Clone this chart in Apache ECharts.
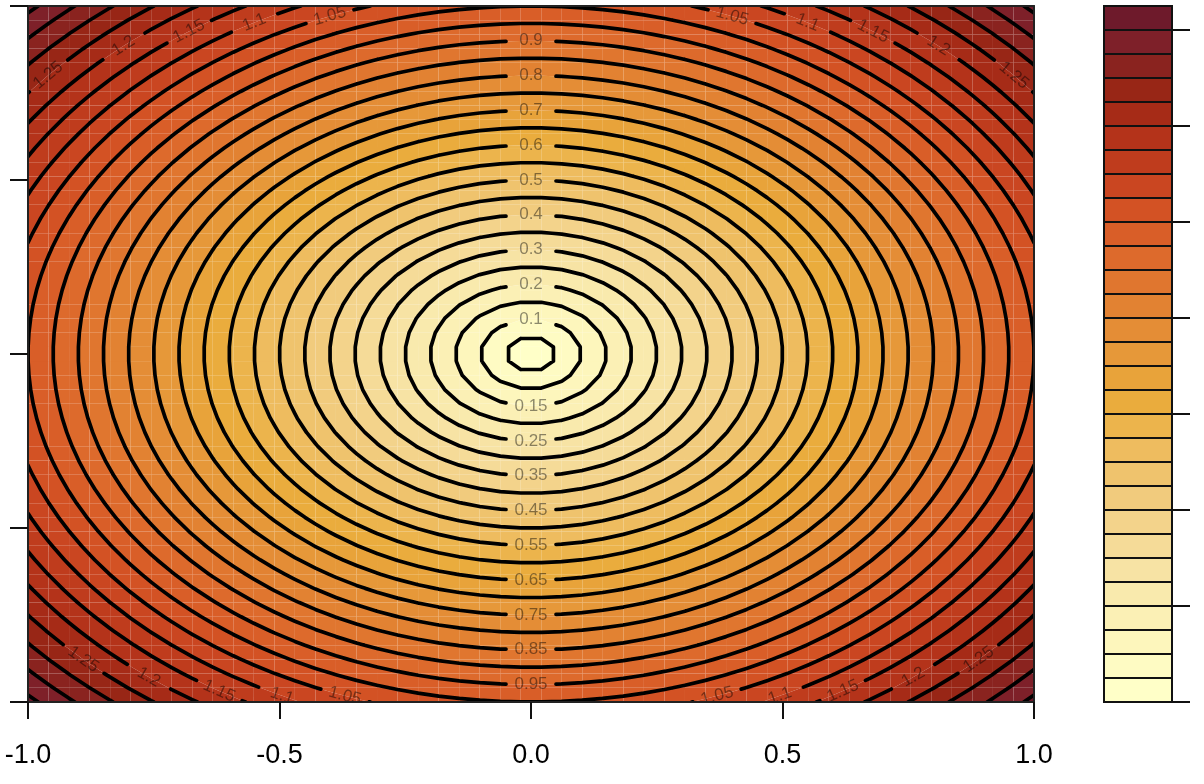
<!DOCTYPE html>
<html>
<head>
<meta charset="utf-8">
<script src="https://cdn.jsdelivr.net/npm/echarts@6/dist/echarts.min.js"></script>
<style>
  html, body { margin: 0; padding: 0; background: #fff; }
  #chart { width: 1204px; height: 784px; }
</style>
</head>
<body>
<div id="chart"></div>
<script>
// grid nodes of the surface (50 points from -1 to 1, same for x and y)
const gridPts = [
  -1, -0.95918, -0.91837, -0.87755, -0.83673, -0.79592, -0.7551, -0.71429, -0.67347, -0.63265,
  -0.59184, -0.55102, -0.5102, -0.46939, -0.42857, -0.38776, -0.34694, -0.30612, -0.26531, -0.22449,
  -0.18367, -0.14286, -0.10204, -0.06122, -0.02041, 0.02041, 0.06122, 0.10204, 0.14286, 0.18367,
  0.22449, 0.26531, 0.30612, 0.34694, 0.38776, 0.42857, 0.46939, 0.5102, 0.55102, 0.59184,
  0.63265, 0.67347, 0.71429, 0.7551, 0.79592, 0.83673, 0.87755, 0.91837, 0.95918, 1
];
// contour / fill break points
const levels = [0, 0.05, 0.1, 0.15, 0.2, 0.25, 0.3, 0.35, 0.4, 0.45, 0.5, 0.55, 0.6, 0.65, 0.7,
  0.75, 0.8, 0.85, 0.9, 0.95, 1, 1.05, 1.1, 1.15, 1.2, 1.25, 1.3, 1.35, 1.4, 1.45];
// labelled contours
const topLabels = [0.1, 0.2, 0.3, 0.4, 0.5, 0.6, 0.7, 0.8, 0.9];
const bottomLabels = [0.15, 0.25, 0.35, 0.45, 0.55, 0.65, 0.75, 0.85, 0.95];
const cornerLabels = [1.05, 1.1, 1.15, 1.2, 1.25];
// colour key ticks
const keyTicks = [0, 0.2, 0.4, 0.6, 0.8, 1, 1.2, 1.4];

// one colour per band, lowest band first
const bandColors = ['#FFFFC8', '#FEFBC3', '#FDF6BC', '#FBF0B5', '#F9EAAD', '#F7E3A4', '#F5DB98',
  '#F3D38B', '#F1CB7D', '#EFC36D', '#EEBC5F', '#ECB44C', '#EAAC3D', '#E8A33A', '#E69839',
  '#E48D36', '#E28232', '#E0762F', '#DD6A2C', '#D95E28', '#D35224', '#CA4621', '#BF3C1D',
  '#B4331A', '#A62B17', '#982616', '#8A231F', '#7E2029', '#6E1A2B'];
// where the corner labels sit along their rings (|x| of the label)
const cornerTopX = [0.40, 0.55, 0.68, 0.81, 0.96];
const cornerBottomX = [0.37, 0.495, 0.62, 0.76, 0.89];

const N = gridPts.length;
// surface height = distance from the centre (rings)
const zAt = (i, j) => Math.hypot(gridPts[i], gridPts[j]);
const node = (i, j) => ({ x: gridPts[i], y: gridPts[j], z: zAt(i, j) });
const same = (a, b) => Math.abs(a - b) < 1e-9;

// clip polygon, keeping where keep(v) >= 0 (z linear along edges)
function clipPoly(poly, keep) {
  const out = [];
  for (let k = 0; k < poly.length; k++) {
    const a = poly[k], b = poly[(k + 1) % poly.length];
    const fa = keep(a), fb = keep(b);
    if (fa >= 0) out.push(a);
    if ((fa >= 0) !== (fb >= 0)) {
      const t = fa / (fa - fb);
      out.push({ x: a.x + t * (b.x - a.x), y: a.y + t * (b.y - a.y), z: a.z + t * (b.z - a.z) });
    }
  }
  return out;
}

// filled bands, cell by cell
const fillPolys = [];
// contour segments for each line level
const lineLevels = levels.slice(1, -1);
const contourSegs = lineLevels.map(() => []);
for (let j = 0; j < N - 1; j++) {
  for (let i = 0; i < N - 1; i++) {
    const quad = [node(i, j), node(i + 1, j), node(i + 1, j + 1), node(i, j + 1)];
    const zs = quad.map(p => p.z);
    const zmin = Math.min(...zs), zmax = Math.max(...zs);
    for (let k = 0; k < levels.length - 1; k++) {
      if (levels[k + 1] < zmin || levels[k] > zmax) continue;
      let poly = clipPoly(quad, v => v.z - levels[k]);
      poly = clipPoly(poly, v => levels[k + 1] - v.z);
      if (poly.length >= 3) fillPolys.push({ band: k, pts: poly });
    }
    lineLevels.forEach((lev, li) => {
      if (lev < zmin || lev > zmax) return;
      const cross = [];
      for (let e = 0; e < 4; e++) {
        const a = quad[e], b = quad[(e + 1) % 4];
        if ((a.z < lev) !== (b.z < lev)) {
          const t = (lev - a.z) / (b.z - a.z);
          cross.push([a.x + t * (b.x - a.x), a.y + t * (b.y - a.y)]);
        }
      }
      if (cross.length >= 2) contourSegs[li].push([cross[0], cross[1]]);
      if (cross.length === 4) contourSegs[li].push([cross[2], cross[3]]);
    });
  }
}

// label list
const labelItems = [];
topLabels.forEach(v => labelItems.push({ level: v, x: 0, y: v }));
bottomLabels.forEach(v => labelItems.push({ level: v, x: 0, y: -v }));
cornerLabels.forEach((v, k) => {
  const xt = cornerTopX[k], yt = Math.sqrt(v * v - xt * xt);
  const xb = cornerBottomX[k], yb = Math.sqrt(v * v - xb * xb);
  labelItems.push({ level: v, x: xt, y: yt }, { level: v, x: -xt, y: yt },
    { level: v, x: xb, y: -yb }, { level: v, x: -xb, y: -yb });
});

const LABEL_FONT = '17px "Liberation Sans"';
const measureCtx = document.createElement('canvas').getContext('2d');
measureCtx.font = LABEL_FONT;

// pixel placement of a label: centre, direction along the ring, gap size
function labelBox(l, api) {
  const p0 = api.coord([l.x, l.y]);
  const eps = 0.01;
  const p1 = api.coord([l.x - l.y * eps, l.y + l.x * eps]);
  let ang = Math.atan2(p1[1] - p0[1], p1[0] - p0[0]);
  if (ang > Math.PI / 2) ang -= Math.PI;
  if (ang < -Math.PI / 2) ang += Math.PI;
  const txt = String(l.level);
  const w = measureCtx.measureText(txt).width;
  return { cx: p0[0], cy: p0[1], ang, cos: Math.cos(ang), sin: Math.sin(ang),
    hw: Math.max(w / 2 + 8, 25), hh: 9, txt };
}

function boxInterval(a, b, bx) {
  const px = a[0] - bx.cx, py = a[1] - bx.cy;
  const dx = b[0] - a[0], dy = b[1] - a[1];
  const u0 = px * bx.cos + py * bx.sin, du = dx * bx.cos + dy * bx.sin;
  const v0 = -px * bx.sin + py * bx.cos, dv = -dx * bx.sin + dy * bx.cos;
  let lo = 0, hi = 1;
  [[u0, du, bx.hw], [v0, dv, bx.hh]].forEach(([p, dp, h]) => {
    if (Math.abs(dp) < 1e-12) {
      if (Math.abs(p) > h) { lo = 1; hi = 0; }
      return;
    }
    let ta = (-h - p) / dp, tb = (h - p) / dp;
    if (ta > tb) { const s = ta; ta = tb; tb = s; }
    lo = Math.max(lo, ta);
    hi = Math.min(hi, tb);
  });
  return lo < hi ? [lo, hi] : null;
}

const chart = echarts.init(document.getElementById('chart'));

const frameLine = { show: true, onZero: false, lineStyle: { color: '#222', width: 2 } };

const option = {
  animation: false,
  grid: [
    { left: 28, right: 170, top: 6, bottom: 82 },
    { left: 1104, width: 68, top: 6, height: 696 }
  ],
  xAxis: [
    {
      type: 'value', gridIndex: 0, min: -1, max: 1, interval: 0.5, position: 'bottom', z: 10,
      axisLine: frameLine,
      axisTick: { show: true, length: 17, lineStyle: { color: '#111', width: 2 } },
      axisLabel: {
        fontSize: 27, color: '#000', fontFamily: 'Liberation Sans', margin: 40,
        formatter: v => v.toFixed(1)
      },
      splitLine: { show: false }
    },
    {
      type: 'value', gridIndex: 0, min: -1, max: 1, position: 'top', z: 10,
      axisLine: frameLine, axisTick: { show: false }, axisLabel: { show: false },
      splitLine: { show: false }
    },
    { type: 'value', gridIndex: 1, min: 0, max: 1, show: false }
  ],
  yAxis: [
    {
      type: 'value', gridIndex: 0, min: -1, max: 1, interval: 0.5, position: 'left', z: 10,
      axisLine: frameLine,
      axisTick: { show: true, length: 18, lineStyle: { color: '#111', width: 2 } },
      axisLabel: { show: false },
      splitLine: { show: false }
    },
    {
      type: 'value', gridIndex: 0, min: -1, max: 1, position: 'right', z: 10,
      axisLine: frameLine, axisTick: { show: false }, axisLabel: { show: false },
      splitLine: { show: false }
    },
    { type: 'value', gridIndex: 1, min: 0, max: 1.45, show: false }
  ],
  series: [
    {
      // filled bands
      type: 'custom', xAxisIndex: 0, yAxisIndex: 0, z: 1, clip: true, silent: true,
      progressive: 0,
      data: fillPolys.map((p, idx) => [idx]),
      renderItem: (params, api) => {
        const p = fillPolys[params.dataIndex];
        return {
          type: 'polygon',
          shape: { points: p.pts.map(v => api.coord([v.x, v.y])) },
          style: { fill: bandColors[p.band] }
        };
      }
    },
    {
      // contour lines, broken where the labels sit
      type: 'custom', xAxisIndex: 0, yAxisIndex: 0, z: 2, clip: true, silent: true,
      data: lineLevels.map((v, i) => [i]),
      renderItem: (params, api) => {
        const lev = lineLevels[params.dataIndex];
        const boxes = labelItems.filter(l => same(l.level, lev)).map(l => labelBox(l, api));
        let d = '';
        contourSegs[params.dataIndex].forEach(s => {
          const a = api.coord(s[0]), b = api.coord(s[1]);
          let pieces = [[0, 1]];
          boxes.forEach(bx => {
            const cut = boxInterval(a, b, bx);
            if (!cut) return;
            const next = [];
            pieces.forEach(([t0, t1]) => {
              if (cut[1] <= t0 || cut[0] >= t1) { next.push([t0, t1]); return; }
              if (cut[0] > t0) next.push([t0, cut[0]]);
              if (cut[1] < t1) next.push([cut[1], t1]);
            });
            pieces = next;
          });
          pieces.forEach(([t0, t1]) => {
            const x0 = a[0] + t0 * (b[0] - a[0]), y0 = a[1] + t0 * (b[1] - a[1]);
            const x1 = a[0] + t1 * (b[0] - a[0]), y1 = a[1] + t1 * (b[1] - a[1]);
            d += 'M' + x0.toFixed(2) + ' ' + y0.toFixed(2) + 'L' + x1.toFixed(2) + ' ' + y1.toFixed(2);
          });
        });
        if (!d) return { type: 'group', children: [] };
        return {
          type: 'path',
          shape: { pathData: d },
          style: { fill: 'none', stroke: '#000', lineWidth: 3.7, lineCap: 'round', lineJoin: 'round' }
        };
      }
    },
    {
      // contour labels
      type: 'custom', xAxisIndex: 0, yAxisIndex: 0, z: 3, clip: true, silent: true,
      data: labelItems.map((l, i) => [i]),
      renderItem: (params, api) => {
        const bx = labelBox(labelItems[params.dataIndex], api);
        return {
          type: 'text',
          x: bx.cx, y: bx.cy, rotation: -bx.ang,
          style: {
            text: bx.txt, font: LABEL_FONT, fill: 'rgba(0,0,0,0.45)',
            align: 'center', verticalAlign: 'middle'
          }
        };
      }
    },
    {
      // colour key boxes
      type: 'custom', xAxisIndex: 2, yAxisIndex: 2, z: 2, silent: true,
      data: bandColors.map((c, k) => [k]),
      renderItem: (params, api) => {
        const k = params.dataIndex;
        const p0 = api.coord([0, levels[k + 1]]);
        const p1 = api.coord([1, levels[k]]);
        return {
          type: 'rect',
          shape: { x: p0[0], y: p0[1], width: p1[0] - p0[0], height: p1[1] - p0[1] },
          style: { fill: bandColors[k], stroke: '#111', lineWidth: 2 }
        };
      }
    },
    {
      // colour key ticks
      type: 'custom', xAxisIndex: 2, yAxisIndex: 2, z: 3, silent: true,
      data: keyTicks.map(v => [v]),
      renderItem: (params, api) => {
        const p = api.coord([1, keyTicks[params.dataIndex]]);
        return {
          type: 'line',
          shape: { x1: p[0], y1: p[1], x2: p[0] + 18, y2: p[1] },
          style: { stroke: '#111', lineWidth: 2 }
        };
      }
    }
  ]
};

chart.setOption(option);
</script>
</body>
</html>
